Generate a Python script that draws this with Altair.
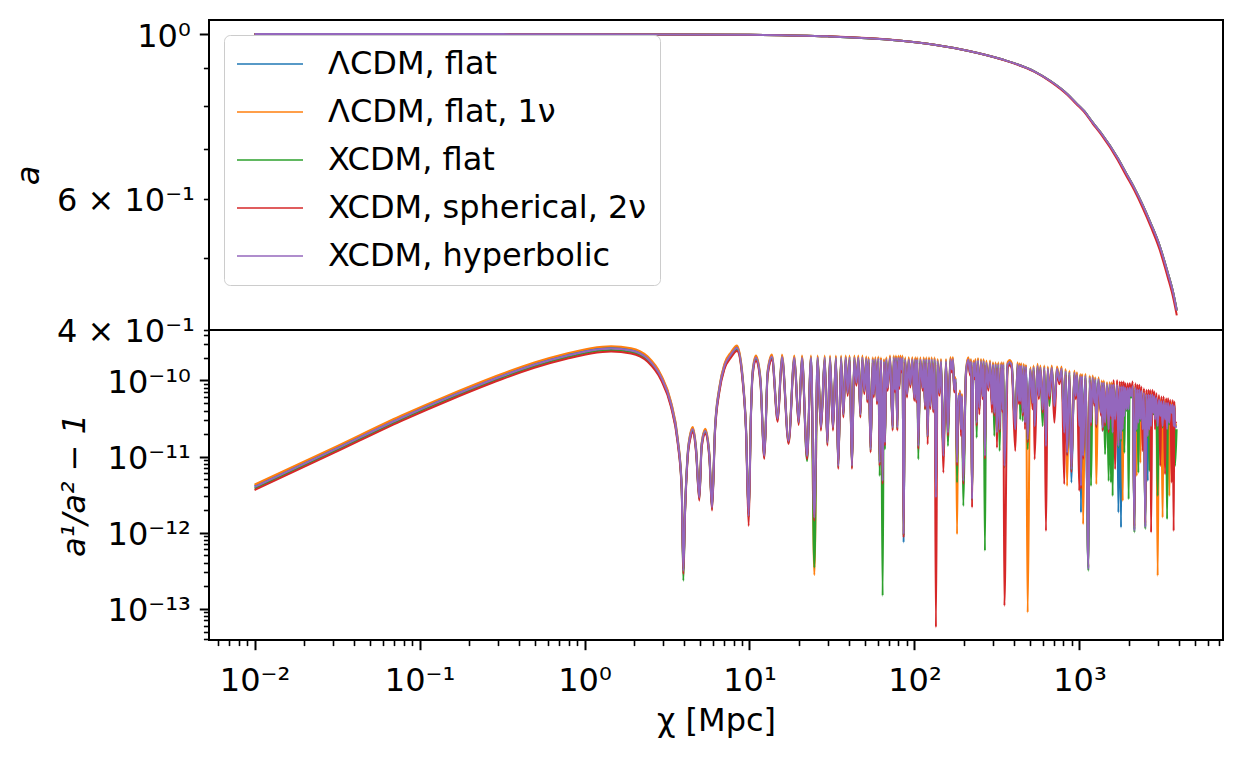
import altair as alt
import pandas as pd

MODELS = ["ΛCDM, flat", "ΛCDM, flat, 1ν", "XCDM, flat", "XCDM, spherical, 2ν", "XCDM, hyperbolic"]
COLORS = ["#1f77b4", "#ff7f0e", "#2ca02c", "#d62728", "#9467bd"]

# ---- upper panel: scale factor a along the light cone ----
CHI_A = [0.01, 0.1, 1.0, 10.0, 30.0, 83.0, 132.0, 210.0, 334.0, 532.0, 671.0,
         849.0, 953.0, 1070.0, 1202.0, 1349.0, 1705.0, 1914.0, 2150.0, 2415.0,
         2712.0, 3048.0, 3427.0, 3673.0, 3890.0]
A_COMMON = [1.0, 1.0, 0.9998, 0.9977, 0.9930, 0.9798, 0.9678, 0.9500, 0.9256, 0.8910, 0.8639,
            0.8294, 0.8080, 0.7873, 0.7605, 0.7365, 0.6811, 0.6503, 0.6207, 0.5889,
            0.5553, 0.5204, 0.4773, 0.4514, 0.4244]
A_SPHERICAL = [1.0, 1.0, 0.9998, 0.9977, 0.9930, 0.9797, 0.9676, 0.9496, 0.9250, 0.8900, 0.8625,
               0.8275, 0.8058, 0.7850, 0.7578, 0.7330, 0.6770, 0.6455, 0.6160, 0.5835,
               0.5495, 0.5140, 0.4705, 0.4445, 0.4180]

# ---- lower panel: log10(chi) and log10(a1/a2 - 1) of the hyperbolic run ----
LOG_CHI = [
    -2.000, -1.516, -1.112, -0.809, -0.506, -0.304, -0.102, 0.039, 0.161, 0.282, 0.383, 0.464,
    0.524, 0.565, 0.589, 0.599, 0.609, 0.625, 0.642, 0.656, 0.676, 0.696, 0.710, 0.732, 0.757,
    0.773, 0.791, 0.817, 0.848, 0.888, 0.924, 0.959, 0.979, 0.995, 1.009, 1.019, 1.039, 1.066,
    1.090, 1.110, 1.136, 1.171, 1.197, 1.237, 1.272, 1.298, 1.318, 1.349, 1.373, 1.393, 1.413,
    1.433, 1.456, 1.472, 1.488, 1.506, 1.524, 1.538, 1.555, 1.569, 1.583, 1.595, 1.607, 1.621,
    1.635, 1.648, 1.660, 1.672, 1.684, 1.696, 1.708, 1.714, 1.722, 1.734, 1.747, 1.753, 1.763,
    1.773, 1.781, 1.789, 1.797, 1.807, 1.815, 1.821, 1.829, 1.837, 1.852, 1.868, 1.874, 1.882,
    1.888, 1.896, 1.902, 1.908, 1.914, 1.922, 1.928, 1.934, 1.943, 1.955, 1.965, 1.975, 1.987,
    1.999, 2.005, 2.011, 2.017, 2.023, 2.035, 2.050, 2.056, 2.064, 2.072, 2.080, 2.088, 2.096,
    2.104, 2.114, 2.122, 2.130, 2.140, 2.151, 2.161, 2.175, 2.191, 2.203, 2.217, 2.227, 2.233,
    2.241, 2.250, 2.258, 2.266, 2.272, 2.276, 2.282, 2.288, 2.296, 2.312, 2.326, 2.338, 2.343,
    2.349, 2.357, 2.363, 2.370, 2.377, 2.385, 2.393, 2.403, 2.413, 2.419, 2.427, 2.435, 2.448,
    2.458, 2.470, 2.476, 2.484, 2.492, 2.500, 2.508, 2.516, 2.526, 2.534, 2.538, 2.545, 2.565,
    2.577, 2.589, 2.611, 2.625, 2.633, 2.637, 2.641, 2.647, 2.656, 2.662, 2.670, 2.676, 2.686,
    2.702, 2.716, 2.722, 2.728, 2.746, 2.754, 2.763, 2.777, 2.787, 2.797, 2.808, 2.818, 2.832,
    2.848, 2.864, 2.878, 2.892, 2.908, 2.916, 2.925, 2.939, 2.951, 2.969, 2.977, 2.985, 2.999,
    3.005, 3.009, 3.016, 3.022, 3.036, 3.054, 3.062, 3.070, 3.080, 3.090, 3.096, 3.102, 3.115,
    3.131, 3.135, 3.141, 3.147, 3.155, 3.167, 3.177, 3.183, 3.191, 3.196, 3.201, 3.207, 3.216,
    3.228, 3.236, 3.244, 3.252, 3.256, 3.262, 3.268, 3.272, 3.278, 3.286, 3.292, 3.298, 3.304,
    3.313, 3.323, 3.333, 3.339, 3.347, 3.351, 3.357, 3.363, 3.369, 3.375, 3.383, 3.391, 3.399,
    3.405, 3.414, 3.418, 3.424, 3.430, 3.434, 3.442, 3.448, 3.454, 3.458, 3.466, 3.474, 3.482,
    3.490, 3.496, 3.504, 3.510, 3.519, 3.525, 3.531, 3.537, 3.545, 3.551, 3.559, 3.565, 3.571,
    3.575, 3.579, 3.589,
]
LOG_DIFF = [
    -11.400, -10.910, -10.494, -10.210, -9.948, -9.794, -9.672, -9.606, -9.580, -9.606, -9.716,
    -9.956, -10.306, -10.787, -11.400, -12.503, -11.737, -10.993, -10.720, -10.643, -10.906,
    -11.540, -10.850, -10.665, -10.993, -11.671, -10.643, -10.118, -9.812, -9.659, -9.572,
    -9.987, -10.643, -11.781, -10.425, -9.900, -9.703, -9.987, -10.993, -9.900, -9.690,
    -10.503, -9.690, -10.796, -9.703, -10.547, -9.703, -10.993, -9.703, -11.803, -9.703,
    -10.621, -9.703, -10.818, -9.703, -10.621, -9.703, -11.124, -9.703, -10.446, -9.703,
    -10.162, -9.703, -11.124, -9.703, -10.031, -9.703, -10.446, -9.703, -10.140, -9.716,
    -10.250, -9.725, -10.906, -9.725, -10.184, -9.725, -10.272, -9.716, -11.081, -9.725,
    -11.321, -9.747, -10.818, -9.725, -10.097, -9.703, -10.621, -9.703, -10.118, -9.703,
    -10.621, -9.703, -10.075, -9.703, -9.856, -9.703, -12.021, -9.725, -10.184, -9.725,
    -10.053, -9.725, -10.228, -9.725, -10.250, -9.725, -10.862, -9.725, -10.097, -9.725,
    -10.337, -9.725, -10.731, -9.725, -10.337, -9.725, -10.381, -9.725, -11.540, -9.747,
    -10.162, -9.747, -10.993, -9.747, -10.687, -9.725, -9.856, -9.725, -10.118, -9.987,
    -11.081, -10.206, -10.250, -10.162, -10.643, -10.206, -11.321, -9.900, -9.725, -9.900,
    -9.747, -11.562, -9.768, -9.943, -9.747, -10.556, -9.734, -10.359, -9.747, -10.206,
    -9.747, -10.993, -9.768, -10.097, -9.768, -10.315, -9.790, -10.425, -9.790, -10.687,
    -9.790, -10.643, -9.790, -10.381, -9.790, -11.124, -9.790, -9.760, -9.800, -10.643,
    -9.790, -10.272, -9.803, -10.272, -9.803, -10.425, -9.812, -10.556, -9.821, -10.775,
    -9.856, -10.293, -9.834, -10.600, -9.812, -10.206, -9.834, -10.381, -9.834, -10.862,
    -9.847, -10.206, -9.834, -10.337, -9.847, -10.009, -9.847, -10.687, -9.878, -10.949,
    -9.900, -11.168, -9.900, -10.206, -9.922, -10.600, -9.943, -11.387, -9.943, -10.993,
    -9.943, -12.481, -9.965, -10.556, -9.965, -10.293, -9.987, -10.578, -9.987, -10.425,
    -10.031, -10.621, -10.031, -10.556, -10.053, -10.643, -10.053, -10.468, -10.053, -10.687,
    -10.053, -10.512, -10.053, -10.862, -10.075, -10.775, -10.075, -10.643, -10.075, -10.468,
    -10.097, -10.381, -10.097, -10.381, -10.097, -10.206, -10.075, -11.978, -10.097, -10.643,
    -10.118, -10.556, -10.118, -10.512, -10.140, -10.643, -10.162, -11.934, -10.184, -10.731,
    -10.184, -10.643, -10.184, -10.600, -10.184, -10.425, -10.206, -10.512, -10.228, -10.600,
    -10.250, -10.468, -10.272, -10.600, -10.272, -10.512, -10.293, -10.643, -10.293, -10.556,
    -10.315, -10.425, -10.315, -10.600, -10.337, -10.600, -10.621,
]

# vertical offsets (dex) of each run relative to the hyperbolic curve
OFFSET = {MODELS[0]: 0.015, MODELS[1]: 0.03, MODELS[2]: -0.02, MODELS[3]: -0.04, MODELS[4]: 0.0}
SPHERICAL_LATE_START = 3.2   # log10 chi beyond which the spherical run lies higher
SPHERICAL_LATE_OFFSET = 0.06

# points where a run dips deeper than the hyperbolic curve: (log10 chi, log10 value)
DEEP = {
    MODELS[0]: [(1.934, -12.131), (2.951, -11.343), (3.009, -11.737), (3.141, -10.665),
                (3.236, -11.737), (3.252, -11.934), (3.414, -11.321)],
    MODELS[1]: [(1.393, -12.559), (2.258, -12.021), (2.686, -13.049), (2.925, -11.387),
                (3.022, -11.890), (3.102, -11.365), (3.262, -11.584), (3.347, -11.256),
                (3.369, -11.081), (3.474, -12.568), (3.504, -11.803), (3.545, -11.518)],
    MODELS[2]: [(0.599, -12.634), (1.349, -11.059), (1.393, -12.459), (1.672, -10.476),
                (1.789, -11.256), (1.807, -12.831), (1.821, -10.906), (2.023, -11.037),
                (2.064, -10.381), (2.203, -10.862), (2.258, -11.343), (2.296, -11.649),
                (2.377, -10.753), (2.427, -12.240), (2.484, -10.731), (2.516, -10.928),
                (2.641, -10.512), (2.656, -10.534), (2.686, -10.906), (2.777, -10.600),
                (2.818, -10.337), (3.070, -11.387), (3.155, -10.971), (3.177, -11.321),
                (3.191, -11.343), (3.201, -11.518), (3.272, -10.949), (3.298, -11.562),
                (3.357, -11.212), (3.424, -11.190), (3.474, -11.518), (3.531, -11.824),
                (3.579, -11.124)],
    MODELS[3]: [(0.599, -12.546), (0.995, -11.912), (1.934, -12.065), (2.080, -10.840),
                (2.130, -13.246), (2.175, -11.212), (2.282, -10.731), (2.349, -11.671),
                (2.393, -10.446), (2.470, -10.425), (2.500, -10.884), (2.545, -12.962),
                (2.611, -10.928), (2.670, -10.643), (2.716, -10.381), (2.728, -11.037),
                (2.797, -11.978), (2.848, -10.556), (2.908, -11.365), (2.999, -11.453),
                (3.054, -11.900), (3.216, -11.168), (3.383, -10.928), (3.434, -11.999),
                (3.458, -10.643), (3.490, -11.124), (3.519, -11.234), (3.559, -11.343),
                (3.571, -11.978)],
    MODELS[4]: [],
}

# axis ranges (log10) and tick labels
X_LOG_RANGE = (-2.276, 3.870)
A_LOG_RANGE = (-0.3985, 0.0190)
D_LOG_RANGE = (-13.412, -9.337)
X_LABELS = [(-2, "10⁻²"), (-1, "10⁻¹"), (0, "10⁰"), (1, "10¹"), (2, "10²"), (3, "10³")]
A_LABELS = [(0.0, "10⁰"), (-0.22185, "6 × 10⁻¹"), (-0.39794, "4 × 10⁻¹")]
D_LABELS = [(-13, "10⁻¹³"), (-12, "10⁻¹²"), (-11, "10⁻¹¹"), (-10, "10⁻¹⁰")]

FONT = "DejaVu Sans"
FS = 32
LW = 2.0


def log_ticks(lo, hi):
    out = []
    for k in range(int(lo) - 2, int(hi) + 2):
        for m in range(1, 10):
            v = m * 10.0 ** k
            if 10 ** lo <= v <= 10 ** hi:
                out.append(v)
    return out


def label_expr(pairs):
    expr = "''"
    for lv, lab in reversed(pairs):
        expr = f"abs(log(datum.value)/LN10 - ({lv})) < 1e-4 ? '{lab}' : {expr}"
    return expr


IS_DECADE = "abs(log(datum.value)/LN10 - round(log(datum.value)/LN10)) < 1e-6"


def make_axis(lo, hi, pairs, title, **kw):
    opts = dict(
        values=log_ticks(lo, hi),
        labelExpr=label_expr(pairs),
        title=title,
        grid=False,
        domain=False,
        tickColor="black",
        tickSize={"condition": {"test": IS_DECADE, "value": 9.7}, "value": 5.6},
        tickWidth={"condition": {"test": IS_DECADE, "value": 2.0}, "value": 1.6},
        labelPadding=9,
        labelFont=FONT,
        labelFontSize=FS,
        labelColor="black",
        labelOverlap=False,
        labelFlush=False,
        labelBound=False,
        titleFont=FONT,
        titleFontSize=FS,
        titleFontWeight="normal",
        titleColor="black",
    )
    opts.update(kw)
    return alt.Axis(**opts)


# ---- assemble tables ----
rows_a = []
for m in MODELS:
    vals = A_SPHERICAL if m == MODELS[3] else A_COMMON
    for c, a in zip(CHI_A, vals):
        rows_a.append({"model": m, "chi": c, "a": a})
df_a = pd.DataFrame(rows_a)

rows_d = []
for m in MODELS:
    deep = {round(k, 3): v for k, v in DEEP[m]}
    for lc, lv in zip(LOG_CHI, LOG_DIFF):
        shift = OFFSET[m]
        if m == MODELS[3] and lc >= SPHERICAL_LATE_START:
            shift = SPHERICAL_LATE_OFFSET
        val = deep.get(round(lc, 3), lv + shift)
        rows_d.append({"model": m, "chi": 10 ** lc, "diff": 10 ** val})
df_d = pd.DataFrame(rows_d)

x_scale = alt.Scale(type="log", domain=[10 ** X_LOG_RANGE[0], 10 ** X_LOG_RANGE[1]], nice=False)
a_scale = alt.Scale(type="log", domain=[10 ** A_LOG_RANGE[0], 10 ** A_LOG_RANGE[1]], nice=False)
d_scale = alt.Scale(type="log", domain=[10 ** D_LOG_RANGE[0], 10 ** D_LOG_RANGE[1]], nice=False)
color_scale = alt.Scale(domain=MODELS, range=COLORS)

legend = alt.Legend(
    title=None,
    orient="none",
    legendX=15,
    legendY=15,
    symbolType="M-2.4,0H2.4",
    symbolSize=756,
    symbolStrokeWidth=1.7,
    symbolOffset=17,
    labelOffset=42,
    labelFont=FONT,
    labelFontSize=FS,
    labelColor="black",
    labelLimit=0,
    rowPadding=16,
    padding=13,
    fillColor="white",
    strokeColor="#cccccc",
    cornerRadius=6,
)

a_axis = make_axis(A_LOG_RANGE[0], A_LOG_RANGE[1], A_LABELS, "a",
                   titleFontStyle="italic", titlePadding=11, labelOffset=2)
d_axis = make_axis(D_LOG_RANGE[0], D_LOG_RANGE[1], D_LABELS, "a¹/a² − 1",
                   titleFontStyle="italic", titlePadding=16, labelOffset=2)
x_axis = make_axis(X_LOG_RANGE[0], X_LOG_RANGE[1], X_LABELS, "χ [Mpc]",
                   labelPadding=16, titlePadding=9)

W, H = 1014, 310

top_layers = []
bottom_layers = []
for m in MODELS:
    top_layers.append(
        alt.Chart(df_a[df_a.model == m])
        .mark_line(strokeWidth=LW, strokeJoin="round", interpolate="monotone", clip=True)
        .encode(
            x=alt.X("chi:Q", scale=x_scale, axis=None),
            y=alt.Y("a:Q", scale=a_scale, axis=a_axis),
            color=alt.Color("model:N", scale=color_scale, legend=legend),
        )
    )
    bottom_layers.append(
        alt.Chart(df_d[df_d.model == m])
        .mark_line(strokeWidth=LW, strokeJoin="round", interpolate="monotone", clip=True)
        .encode(
            x=alt.X("chi:Q", scale=x_scale, axis=x_axis),
            y=alt.Y("diff:Q", scale=d_scale, axis=d_axis),
            color=alt.Color("model:N", scale=color_scale, legend=legend),
        )
    )

top = alt.layer(*top_layers).properties(width=W, height=H)
bottom = alt.layer(*bottom_layers).properties(width=W, height=H)

chart = (
    alt.vconcat(top, bottom, spacing=0, bounds="flush")
    .properties(padding={"left": 11, "top": 19, "right": 5, "bottom": 5}, background="white")
    .configure_view(stroke="black", strokeWidth=2)
)

chart.save("out.html", embed_options={"renderer": "svg", "actions": False})
